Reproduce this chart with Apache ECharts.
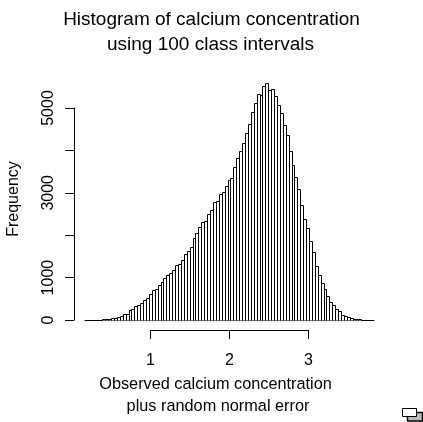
<!DOCTYPE html>
<html><head><meta charset="utf-8">
<style>html,body{margin:0;padding:0;background:#fff}#c{width:423px;height:422px}</style>
<script src="https://cdn.jsdelivr.net/npm/echarts@6/dist/echarts.min.js"></script>
</head><body><div id="c"></div>
<script>
const binStart = 0.1707;
const binWidth = 0.03684;
const frequencies = [0,0,0,0,0,0,24,24,24,47,47,71,94,141,141,236,259,330,354,401,472,519,613,707,731,825,896,990,1061,1108,1179,1297,1320,1415,1556,1627,1721,1934,2051,2193,2311,2334,2500,2594,2783,2806,2971,3018,3160,3301,3348,3608,3820,3985,4174,4409,4622,4905,5117,5329,5306,5518,5588,5423,5447,5282,5070,4881,4598,4362,3985,3655,3372,3089,2712,2382,2169,1863,1603,1273,1061,872,731,566,424,354,259,212,118,94,71,47,24,24,24,0,0,0,0,0];
const yTickLabels = ['0','1000','','3000','','5000'];
const titleLines = ['Histogram of calcium concentration','using 100 class intervals'];
const xLabelLines = ['Observed calcium concentration','plus random normal error'];
const yLabel = 'Frequency';
const FONT = '"Liberation Sans", Arial, sans-serif';

const bins = frequencies.map((f,i)=>[binStart+i*binWidth, binStart+(i+1)*binWidth, f]);
const chart = echarts.init(document.getElementById('c'),null,{renderer:'canvas'});
const txt=(x,y,t,size)=>({type:'text',x,y,silent:true,style:{text:t,font:size+'px '+FONT,fill:'#000',align:'center',verticalAlign:'middle'}});
chart.setOption({
  animation:false,
  backgroundColor:'#fff',
  grid:[
    {left:85,width:289,top:108,height:212},
    {left:150.5,width:158,top:108,height:212}
  ],
  xAxis:[
    {gridIndex:0,type:'value',min:0.172,max:3.83,splitLine:{show:false},axisTick:{show:false},axisLabel:{show:false},axisLine:{show:true,onZero:false,lineStyle:{color:'#000',width:1}}},
    {gridIndex:1,type:'value',min:1,max:3,interval:1,offset:10,position:'bottom',splitLine:{show:false},
      axisLine:{show:true,onZero:false,lineStyle:{color:'#000',width:1}},
      axisTick:{show:true,length:9,lineStyle:{color:'#000',width:1}},
      axisLabel:{show:true,margin:23,color:'#000',fontFamily:FONT,fontSize:16,formatter:v=>String(v)}}
  ],
  yAxis:[
    {gridIndex:0,type:'value',min:0,max:5000,interval:1000,offset:11,position:'left',splitLine:{show:false},
      axisLine:{show:true,lineStyle:{color:'#000',width:1}},
      axisTick:{show:true,length:9,lineStyle:{color:'#000',width:1}},
      axisLabel:{show:true,rotate:90,margin:17,color:'#000',fontFamily:FONT,fontSize:16,showMinLabel:true,showMaxLabel:true,hideOverlap:false,interval:0,
        formatter:v=>yTickLabels[v/1000]}},
    {gridIndex:1,type:'value',min:0,max:5000,show:false}
  ],
  series:[{
    type:'custom',xAxisIndex:0,yAxisIndex:0,clip:false,data:bins,
    encode:{x:[0,1],y:2},
    renderItem:(p,api)=>{
      const f=api.value(2);
      if(!f) return null;
      const a=api.coord([api.value(0),f]), b=api.coord([api.value(1),0]);
      const x0=Math.round(a[0])+.5,x1=Math.round(b[0])+.5,y0=Math.round(a[1])+.5,y1=Math.round(b[1])+.5;
      return {type:'polyline',shape:{points:[[x0,y1],[x0,y0],[x1,y0],[x1,y1]]},style:{fill:'#fff',stroke:'#000',lineWidth:1}};
    }
  }],
  graphic:[
    txt(211.5,20,titleLines[0],19),
    txt(210.5,45,titleLines[1],19),
    txt(215.5,384.5,xLabelLines[0],16.3),
    txt(218,407,xLabelLines[1],16.3),
    {type:'text',x:14,y:199,rotation:Math.PI/2,silent:true,style:{text:yLabel,font:'16px '+FONT,fill:'#000',align:'center',verticalAlign:'middle'}},
    {type:'rect',silent:true,shape:{x:407.5,y:412.5,width:15,height:8.5},style:{fill:'#bbb',stroke:'#000',lineWidth:1.5}},
    {type:'rect',silent:true,shape:{x:402.5,y:408.5,width:14,height:8},style:{fill:'#fff',stroke:'#000',lineWidth:1}}
  ]
});
</script></body></html>
